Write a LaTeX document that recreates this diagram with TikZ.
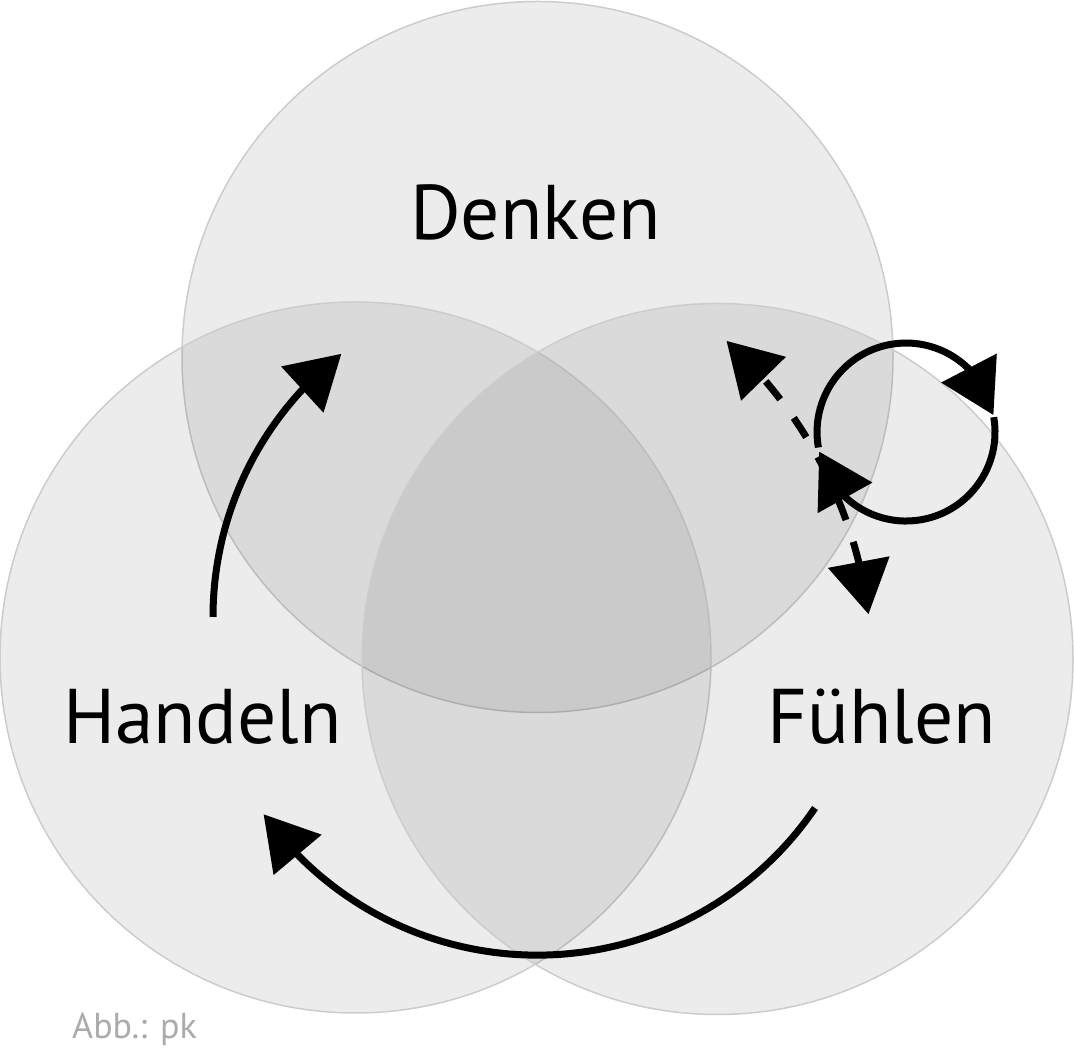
\documentclass[tikz,border=0pt]{standalone}
\usepackage{fontspec}
\setmainfont{PT Sans}
\usetikzlibrary{arrows.meta,bending}
\begin{document}
\begin{tikzpicture}[x=1pt,y=1pt,
  venn/.style={circle, minimum size=711pt, inner sep=0pt, outer sep=0pt,
    fill=black, fill opacity=0.075, draw=black!20, draw opacity=1, line width=1.5pt},
  flow/.style={line width=7pt, line cap=butt, -{Triangle[length=53pt,width=61pt]}},
  dflow/.style={line width=7pt, line cap=butt, dash pattern=on 23pt off 23pt,
    {Triangle[length=53pt,width=61pt]}-{Triangle[length=53pt,width=61pt]}},
  lbl/.style={font=\fontsize{77.5}{80}\selectfont, inner sep=0pt, anchor=base},
  note/.style={font=\fontsize{36}{38}\selectfont, text=black!33, inner sep=0pt, anchor=base west},
]
\useasboundingbox (0,0) rectangle (1074,1055);
% circles
\node[venn] (cD) at (537.5,698) {};
\node[venn] (cH) at (355.5,397.5) {};
\node[venn] (cF) at (717.5,396) {};
% labels
\node[lbl] (tD) at (535.5,815) {Denken};
\node[lbl] (tH) at (202.5,311) {Handeln};
\node[lbl] (tF) at (882,311) {Fühlen};
\node[note] (abb) at (72,16) {Abb.: pk};
% start coordinates
\coordinate (a1) at (213,438);
\coordinate (a2) at (815,247);
\coordinate (a3) at (868.5,440.8);
\coordinate (l1) at (818.4,607.5);
\coordinate (l2) at (993.75,637.8);
% arrows
\draw[flow] (a1) arc[start angle=180, end angle=128, radius=334];
\draw[flow] (a2) arc[start angle=-34.2, end angle=-144.5, radius=336];
\draw[dflow] (a3) arc[start angle=7.2, end angle=47.7, radius=445];
\draw[flow] (l1) arc[start angle=190, end angle=11, radius=89];
\draw[flow] (l2) arc[start angle=9.6, end angle=-167.3, radius=89];
\end{tikzpicture}
\end{document}
